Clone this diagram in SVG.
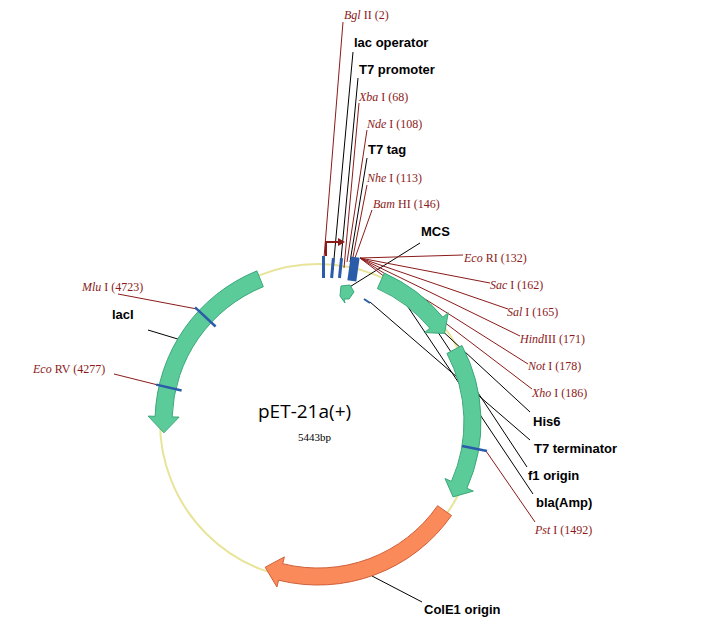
<svg xmlns="http://www.w3.org/2000/svg" width="716" height="627" viewBox="0 0 716 627">
<style>
.re{font-family:"Liberation Serif",serif;font-size:12px;fill:#8b1a1a}
.re tspan.i{font-style:italic}
.ft{font-family:"Liberation Sans",Arial,sans-serif;font-size:13px;font-weight:bold;fill:#000}
.rl{stroke:#8b1a1a;stroke-width:1;fill:none}
.bl{stroke:#000;stroke-width:1;fill:none}
.gr{fill:#5ccb9a;stroke:#3aa878;stroke-width:1}
.cut{stroke:#2a5caa;stroke-width:2.5}
</style>
<rect width="716" height="627" fill="#fff"/>
<g id="backbone"><circle cx="318" cy="422" r="158" fill="none" stroke="#e8e49a" stroke-width="2"/></g>
<g id="connectors">
<line class="rl" x1="343" y1="22" x2="324" y2="258"/>
<line class="bl" x1="353" y1="52" x2="333" y2="270"/>
<line class="bl" x1="358" y1="78" x2="340" y2="270"/>
<line class="rl" x1="359" y1="103" x2="344" y2="268"/>
<line class="rl" x1="367" y1="130" x2="347" y2="262"/>
<line class="bl" x1="367" y1="158" x2="350" y2="262"/>
<line class="rl" x1="367" y1="185" x2="352" y2="262"/>
<line class="rl" x1="372" y1="210" x2="355" y2="258"/>
<line class="bl" x1="420" y1="243" x2="348" y2="288"/>
<line class="rl" x1="463" y1="255" x2="360" y2="258"/>
<line class="rl" x1="490" y1="283" x2="360" y2="258"/>
<line class="rl" x1="508" y1="309" x2="360" y2="258"/>
<line class="rl" x1="520" y1="336" x2="360" y2="258"/>
<line class="rl" x1="528" y1="364" x2="360" y2="258"/>
<line class="rl" x1="532" y1="389" x2="360" y2="258"/>
<line class="bl" x1="530" y1="412" x2="385" y2="278"/>
<line class="bl" x1="530" y1="440" x2="370" y2="302"/>
<line class="bl" x1="527" y1="467" x2="420" y2="305"/>
<line class="bl" x1="533" y1="494" x2="390" y2="280"/>
<line class="rl" x1="535" y1="522" x2="486" y2="451"/>
<line class="rl" x1="118" y1="294" x2="197" y2="309"/>
<line class="bl" x1="148" y1="330" x2="181" y2="340"/>
<line class="rl" x1="114" y1="374" x2="158" y2="385"/>
<line class="bl" x1="422" y1="602" x2="372" y2="576"/>
</g>
<g id="lacI"><path class="gr" d="M256.9,270.9 A163,163 0 0 0 155.1,416.3 L148.1,416.1 L163.9,432.8 L179.1,417.1 L172.1,416.9 A146,146 0 0 1 263.3,286.7 Z"/><line class="cut" x1="215.6" y1="326.5" x2="195.1" y2="307.4"/><line class="cut" x1="181.6" y1="390.5" x2="156.3" y2="384.6"/></g>
<g id="f1arc"><path class="gr" d="M384.3,273.1 A163,163 0 0 1 442.9,317.2 L448.2,312.7 L444.6,333.4 L424.5,332.6 L429.8,328.2 A146,146 0 0 0 377.4,288.6 Z"/></g>
<g id="bla"><path class="gr" d="M461.9,345.5 A163,163 0 0 1 466.9,488.3 L473.3,491.1 L453.1,496.9 L445.0,478.5 L451.4,481.4 A146,146 0 0 0 446.9,353.5 Z"/><line class="cut" x1="462" y1="446" x2="487" y2="451"/></g>
<g id="ColE1"><path d="M451.5,515.5 A163,163 0 0 1 278.6,580.2 L276.9,587.0 L265.2,567.2 L284.4,556.9 L282.7,563.7 A146,146 0 0 0 437.6,505.7 Z" fill="#fa8a5a" stroke="#d0603a"/></g>
<g id="top-features">
<rect x="322" y="256" width="3" height="22" fill="#2a5caa"/>
<rect x="331" y="258" width="3" height="20" fill="#2a5caa" transform="rotate(5 332 268)"/>
<rect x="339" y="258" width="3" height="20" fill="#2a5caa" transform="rotate(6 340 268)"/>
<rect x="349" y="257" width="9" height="24" fill="#2a5caa" transform="rotate(8 353 269)"/>
<path d="M326,256 V242 H340" fill="none" stroke="#8b1a1a" stroke-width="2"/><path d="M338,238 L345,242 L338,246 Z" fill="#8b1a1a"/>
<path class="gr" d="M341,286 L350,285 L354,292 L349,299 L344,299 L345,303 L340,296 Z"/>
<line x1="364" y1="299" x2="370" y2="303" stroke="#2a5caa" stroke-width="2"/>
</g>
<g id="labels">
<text class="re" x="344" y="19"><tspan class="i">Bgl</tspan> II (2)</text>
<text class="ft" x="354" y="47">lac operator</text>
<text class="ft" x="359" y="74">T7 promoter</text>
<text class="re" x="359" y="101"><tspan class="i">Xba</tspan> I (68)</text>
<text class="re" x="367" y="128"><tspan class="i">Nde</tspan> I (108)</text>
<text class="ft" x="368" y="154">T7 tag</text>
<text class="re" x="367" y="182"><tspan class="i">Nhe</tspan> I (113)</text>
<text class="re" x="373" y="208"><tspan class="i">Bam</tspan> HI (146)</text>
<text class="ft" x="421" y="236">MCS</text>
<text class="re" x="464" y="262"><tspan class="i">Eco</tspan> RI (132)</text>
<text class="re" x="490" y="289"><tspan class="i">Sac</tspan> I (162)</text>
<text class="re" x="507" y="316"><tspan class="i">Sal</tspan> I (165)</text>
<text class="re" x="520" y="343"><tspan class="i">Hind</tspan>III (171)</text>
<text class="re" x="528" y="370"><tspan class="i">Not</tspan> I (178)</text>
<text class="re" x="532" y="397"><tspan class="i">Xho</tspan> I (186)</text>
<text class="ft" x="533" y="426">His6</text>
<text class="ft" x="534" y="453">T7 terminator</text>
<text class="ft" x="528" y="480">f1 origin</text>
<text class="ft" x="536" y="507">bla(Amp)</text>
<text class="re" x="535" y="534"><tspan class="i">Pst</tspan> I (1492)</text>
<text class="re" x="82" y="291"><tspan class="i">Mlu</tspan> I (4723)</text>
<text class="ft" x="112" y="319">lacI</text>
<text class="re" x="33" y="373"><tspan class="i">Eco</tspan> RV (4277)</text>
<text class="ft" x="424" y="614">ColE1 origin</text>
<text x="258" y="418" font-family="'Open Sans',sans-serif" font-size="19" fill="#000">pET-21a(+)</text>
<text x="298" y="441" font-family="'Liberation Serif',serif" font-size="11" fill="#000">5443bp</text>
</g>
</svg>
